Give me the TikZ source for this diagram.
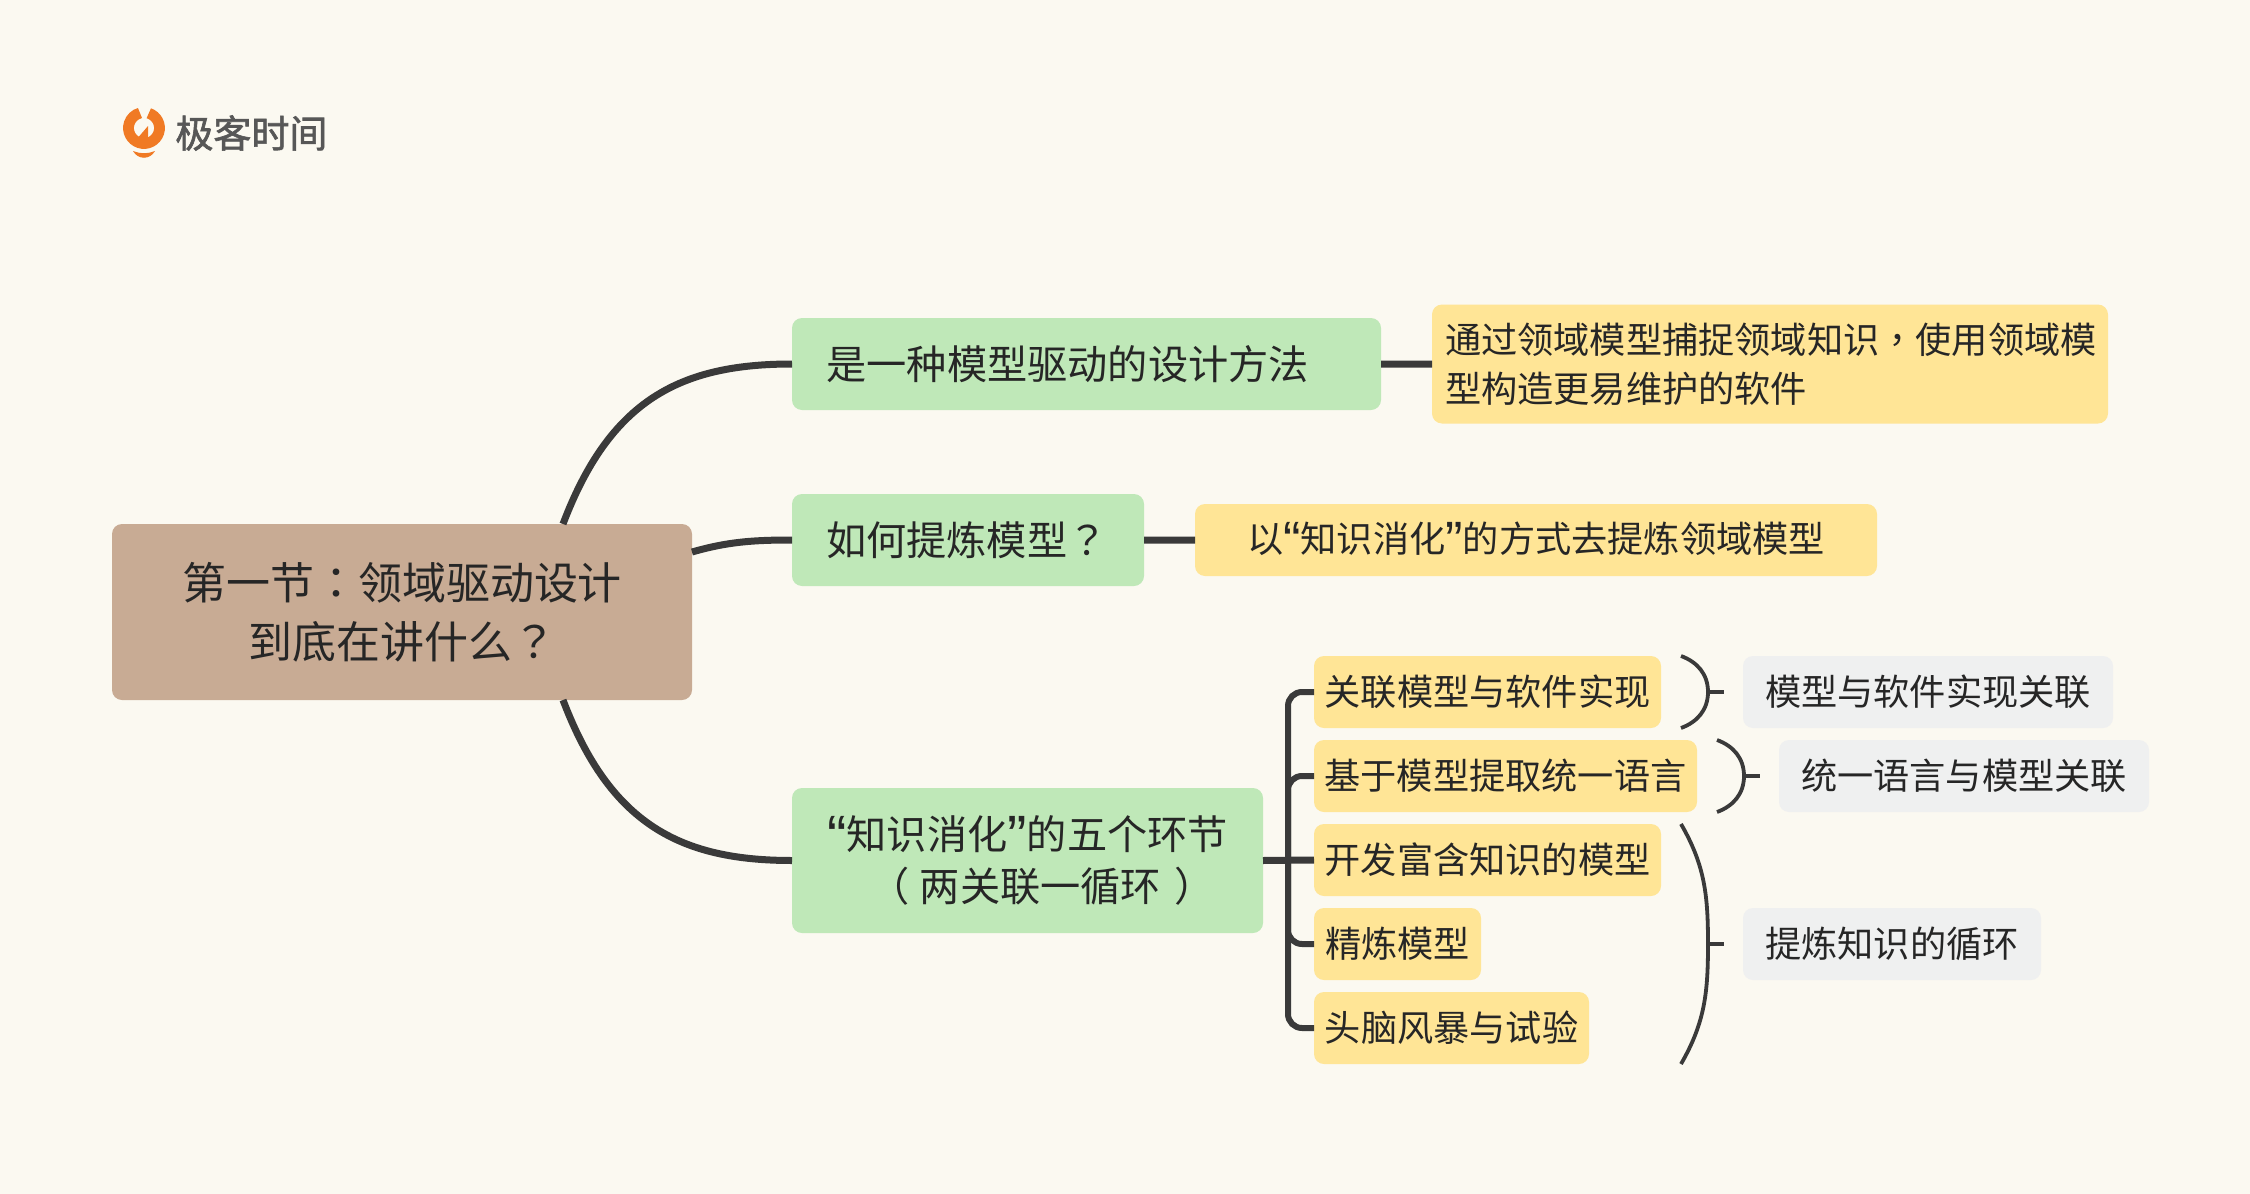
\documentclass[tikz,border=0pt]{standalone}
\usepackage{fontspec}
\setmainfont{Noto Sans CJK SC}
\newfontfamily\punctfont{Noto Sans CJK TC}
\newfontfamily\quotefont[Scale=1.45]{Liberation Sans}
\newfontfamily\logofont[FakeBold=1.6]{Noto Sans CJK SC}
\newcommand{\oq}{\raisebox{-.17em}{\quotefont “}}
\newcommand{\cq}{\raisebox{-.17em}{\quotefont ”}}
\newcommand{\openp}{\kern-5pt{\punctfont （}\kern5pt}
\newcommand{\closep}{\kern6.5pt{\punctfont ）}\kern-6.5pt}
\usetikzlibrary{positioning}
\definecolor{paper}{HTML}{FBF9F1}
\definecolor{tan}{HTML}{C8AB94}
\definecolor{leafgreen}{HTML}{BFE8B8}
\definecolor{butter}{HTML}{FFE596}
\definecolor{mist}{HTML}{EFF0F0}
\definecolor{ink}{HTML}{3A3A3A}
\definecolor{inktext}{HTML}{262626}
\definecolor{logoorange}{HTML}{F07A24}
\tikzset{
    box/.style={rounded corners=5pt, inner xsep=0pt, inner ysep=0pt, outer sep=0pt, text=inktext, align=center},
    rootbox/.style={box, fill=tan, minimum width=290pt, minimum height=88pt, font=\fontsize{22}{29.5}\selectfont},
    topic/.style={box, fill=leafgreen, minimum height=46pt, font=\fontsize{20.1}{26}\selectfont},
    note/.style={box, fill=butter, font=\fontsize{18.1}{24.4}\selectfont},
    leaf/.style={box, fill=butter, minimum height=36pt, font=\fontsize{18.1}{24}\selectfont},
    tag/.style={box, fill=mist, minimum height=36pt, font=\fontsize{18.1}{24}\selectfont},
    link/.style={draw=ink, line width=3.5pt},
    twig/.style={draw=ink, line width=3pt, rounded corners=7pt},
    brc/.style={draw=ink, line width=1.9pt},
}
\begin{document}
\begin{tikzpicture}[x=0.5pt,y=-0.5pt]
    \fill[paper] (0,0) rectangle (2250,1194);
    \useasboundingbox (0,0) rectangle (2250,1194);

    \draw[logoorange, line width=5.4pt] (144,128) ++(-72:15.5) arc (-72:255:15.5);
    \fill[logoorange] (148,126) -- (148,148) -- (136,140) -- cycle;
    \fill[logoorange] (133,151) .. controls (140,154) and (148,154) .. (155,151) .. controls (150,160) and (138,160) .. (133,151) -- cycle;
    \node[text=ink!85, font=\fontsize{19}{19}\selectfont\logofont, anchor=west, inner sep=0pt] (logo) at (175,133) {极客时间};

    \node[rootbox] (root) at (402,612) {第一节{\punctfont ：}领域驱动设计\\到底在讲什么{\punctfont ？}};

    \node[topic, minimum width=294.5pt] (b1) at (1086.5,364) {\makebox[260pt][l]{是一种模型驱动的设计方法}};
    \node[topic, minimum width=176pt] (b2) at (968,540) {\makebox[142pt][l]{如何提炼模型{\punctfont ？}}};
    \node[topic, minimum height=72.5pt, minimum width=235.5pt] (b3) at (1027.5,860.5) {\oq 知识消化\cq 的五个环节\\\hspace*{13pt}\openp 两关联一循环\closep};

    \node[note, minimum width=338pt, minimum height=59.5pt, right=25.5pt of b1] (y1) {\makebox[325pt][l]{通过领域模型捕捉领域知识{\punctfont ，}使用领域模}\\\makebox[325pt][l]{型构造更易维护的软件}};
    \node[note, minimum width=341pt, minimum height=36pt, right=25.5pt of b2] (y2) {以\oq 知识消化\cq 的方式去提炼领域模型};

    \node[leaf, minimum width=173.5pt] (l1) at (1487.5,692) {关联模型与软件实现};
    \node[leaf, minimum width=191.5pt, below=6pt of l1.south west, anchor=north west] (l2) {基于模型提取统一语言};
    \node[leaf, minimum width=173.5pt, below=6pt of l2.south west, anchor=north west] (l3) {开发富含知识的模型};
    \node[leaf, minimum width=83.5pt, below=6pt of l3.south west, anchor=north west] (l4) {精炼模型};
    \node[leaf, minimum width=137.5pt, below=6pt of l4.south west, anchor=north west] (l5) {头脑风暴与试验};

    \node[tag, minimum width=185pt, right=41pt of l1] (g1) {模型与软件实现关联};
    \node[tag, minimum width=185pt, right=41pt of l2] (g2) {统一语言与模型关联};
    \node[tag, minimum width=149pt, right=131pt of l4] (g3) {提炼知识的循环};

    \coordinate (tk) at (1288,860);

    \path[link]
        ([xshift=80.5pt]root.north) .. controls +(47,-124) and +(-112,0) .. (b1.west)
        ([yshift=30pt]root.east) .. controls +(35,-10) and +(-40,0) .. (b2.west)
        ([xshift=80.5pt]root.south) .. controls +(47,124) and +(-112,0) .. (b3.west)
        (b1.east) -- (y1.west)
        (b2.east) -- (y2.west)
        (b3.east) -- (l3.west);
    \path[twig] (l1.west) -| (tk) |- (l5.west);
    \path[twig] (l2.west) -| (tk);
    \path[twig] (l4.west) -| (tk);

    \foreach \t/\b/\g/\a in {l1/l1/g1/20, l2/l2/g2/20, l3/l5/g3/60} {
        \coordinate (ct) at ([xshift=10pt]\t.north east);
        \coordinate (cb) at (ct |- \b.south);
        \coordinate (cm) at ([xshift=-17.5pt]\g.west);
        \path[brc] (ct) to[out=-\a,in=90] (cm) to[out=-90,in=\a] (cb);
        \path[brc] (cm) -- ([xshift=-9.5pt]\g.west);
    }
\end{tikzpicture}
\end{document}
